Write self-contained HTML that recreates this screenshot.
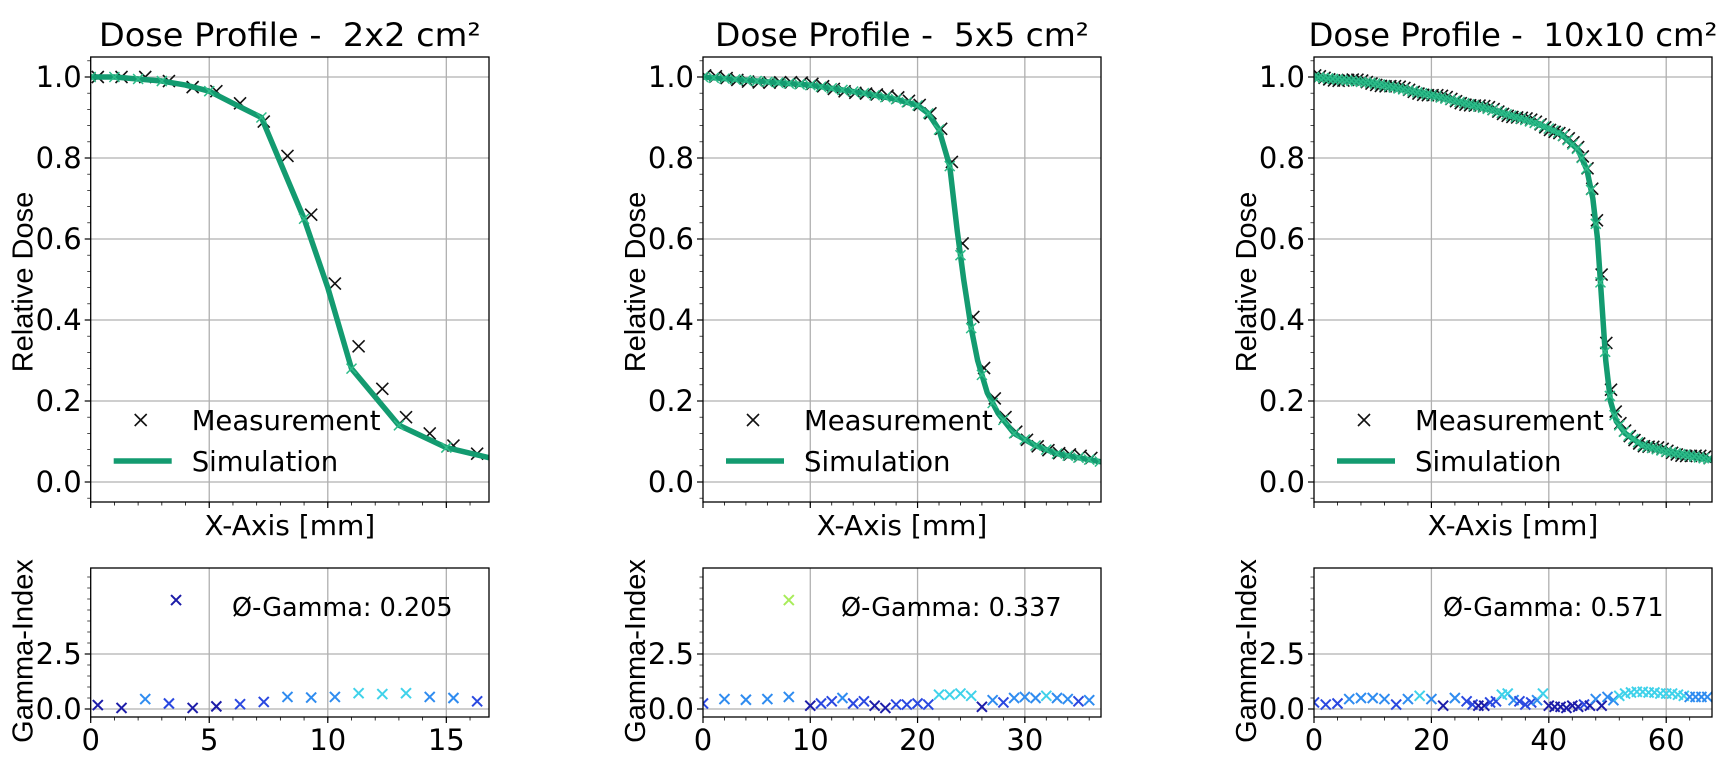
<!DOCTYPE html>
<html><head><meta charset="utf-8"><style>
html,body{margin:0;padding:0;background:#fff;}
svg text{font-family:"DejaVu Sans","Liberation Sans",sans-serif;fill:#000;white-space:pre;}
</style></head><body>
<svg id="s" width="1725" height="753" xmlns="http://www.w3.org/2000/svg"></svg>
<script>
const S=document.getElementById('s');let h='';
function interp(c,x){if(x<=c[0][0])return c[0][1];for(let i=1;i<c.length;i++){if(x<=c[i][0]){const a=c[i-1],b=c[i];return a[1]+(b[1]-a[1])*(x-a[0])/(b[0]-a[0]);}}return c[c.length-1][1];}
function cross(x,y,s,col,w){return `<path d="M${x-s},${y-s}L${x+s},${y+s}M${x-s},${y+s}L${x+s},${y-s}" stroke="${col}" stroke-width="${w}" fill="none"/>`;}
function gcol(v){if(v<0.2)return '#1c1ca8';if(v<0.4)return '#2a48e0';if(v<0.6)return '#2f8cf0';return '#3fd2ea';}
const P=[
{L:90.7,R:489,xmax:16.8,title:'Dose Profile -\u00a0 2x2 cm²',tl:382,ticks:[0,5,10,15],minor:1,
 sim:[[0,1],[1,1],[2,0.995],[3,0.99],[4,0.98],[5,0.965],[6,0.935],[7.2,0.9],[9,0.65],[10,0.48],[11,0.28],[13,0.14],[15,0.085],[16.8,0.06]],
 simMk:[0,1,2,3,5,7.2,9,11,13,15],
 meas:[[0.3,1],[1.3,1],[2.3,1.0],[3.3,0.99],[4.3,0.975],[5.3,0.965],[6.3,0.935],[7.3,0.89],[8.3,0.805],[9.3,0.66],[10.3,0.49],[11.3,0.335],[12.3,0.23],[13.3,0.16],[14.3,0.12],[15.3,0.09],[16.3,0.07]],
 gam:[[0.3,0.18],[1.3,0.05],[2.3,0.45],[3.3,0.25],[4.3,0.05],[5.3,0.12],[6.3,0.22],[7.3,0.32],[8.3,0.55],[9.3,0.52],[10.3,0.55],[11.3,0.72],[12.3,0.68],[13.3,0.72],[14.3,0.55],[15.3,0.5],[16.3,0.35]],
 out:[3.6,4.95,'#1c1ca8'],gtext:'Ø-Gamma: 0.205',gx:232},
{L:703,R:1101,xmax:37.1,title:'Dose Profile -\u00a0 5x5 cm²',tl:374,ticks:[0,10,20,30],minor:2,
 sim:[[0,1.0],[5,0.99],[10,0.98],[15,0.96],[18,0.945],[20,0.93],[21,0.91],[22,0.87],[23,0.78],[23.7,0.62],[24.3,0.5],[25,0.38],[25.6,0.3],[26.5,0.22],[27.5,0.17],[29,0.12],[31,0.09],[33,0.07],[35,0.06],[37.1,0.05]],
 step:1,shift:0.35,
 gam:[[0,0.25],[2,0.45],[4,0.42],[6,0.45],[8,0.55],[10,0.15],[11,0.25],[12,0.35],[13,0.5],[14,0.25],[15,0.35],[16,0.15],[17,0.05],[18,0.2],[19,0.2],[20,0.25],[21,0.2],[22,0.65],[23,0.65],[24,0.7],[25,0.6],[26,0.1],[27,0.4],[28,0.3],[29,0.5],[30,0.55],[31,0.5],[32,0.6],[33,0.5],[34,0.45],[35,0.35],[36,0.4]],
 out:[8,4.95,'#a8ec5a'],gtext:'Ø-Gamma: 0.337',gx:841},
{L:1314,R:1712,xmax:67.8,title:'Dose Profile -\u00a0 10x10 cm²',tl:409,ticks:[0,20,40,60],minor:4,
 sim:[[0,1.0],[10,0.985],[20,0.955],[30,0.92],[38,0.885],[42,0.86],[45,0.82],[46.5,0.77],[47.5,0.7],[48.3,0.6],[49,0.45],[49.7,0.3],[50.5,0.2],[51.5,0.15],[53,0.12],[56,0.09],[60,0.075],[67.8,0.055]],
 step:0.8,shift:0.3,
 gam:[[0,0.3],[2,0.2],[4,0.25],[6,0.45],[8,0.5],[10,0.5],[12,0.45],[14,0.2],[16,0.45],[18,0.6],[20,0.45],[22,0.15],[24,0.5],[26,0.35],[27,0.2],[28,0.15],[29,0.15],[30,0.3],[31,0.35],[32,0.65],[33,0.7],[34,0.4],[35,0.35],[36,0.2],[37,0.3],[38,0.4],[39,0.7],[40,0.15],[41,0.1],[42,0.1],[43,0.05],[44,0.15],[45,0.1],[46,0.2],[47,0.15],[48,0.45],[49,0.15],[50,0.55],[51,0.4],[52,0.6],[53,0.7],[54,0.75],[55,0.78],[56,0.78],[57,0.75],[58,0.75],[59,0.7],[60,0.7],[61,0.7],[62,0.65],[63,0.6],[64,0.55],[65,0.55],[66,0.55],[67,0.55]],
 out:null,gtext:'Ø-Gamma: 0.571',gx:1443}
];
const T=57,B=502,yv=v=>482-405*v, GT=568,GB=717,gy=v=>709-22*v;
P.forEach(p=>{
 const k=(p.R-p.L)/p.xmax, X=x=>p.L+k*x;
 h+=`<defs><clipPath id="c${p.L|0}"><rect x="${p.L}" y="${T}" width="${p.R-p.L}" height="${B-T}"/></clipPath><clipPath id="g${p.L|0}"><rect x="${p.L}" y="${GT}" width="${p.R-p.L}" height="${GB-GT}"/></clipPath></defs>`;
 p.ticks.forEach(t=>{const x=X(t);if(t>0){h+=`<line x1="${x}" y1="${T}" x2="${x}" y2="${B}" stroke="#b0b0b0" stroke-width="1.3"/><line x1="${x}" y1="${GT}" x2="${x}" y2="${GB}" stroke="#b0b0b0" stroke-width="1.3"/>`;}
  h+=`<line x1="${x}" y1="${B}" x2="${x}" y2="${B+6}" stroke="#000" stroke-width="1.2"/><line x1="${x}" y1="${GB}" x2="${x}" y2="${GB+6}" stroke="#000" stroke-width="1.2"/>`;
  h+=`<text x="${x}" y="750" font-size="29" text-anchor="middle">${t}</text>`;});
 for(let m=0;m<=p.xmax;m+=p.minor){const x=X(m);h+=`<line x1="${x}" y1="${B}" x2="${x}" y2="${B+3.5}" stroke="#000" stroke-width="0.8"/><line x1="${x}" y1="${GB}" x2="${x}" y2="${GB+3.5}" stroke="#000" stroke-width="0.8"/>`;}
 [0,0.2,0.4,0.6,0.8,1.0].forEach(v=>{const y=yv(v);h+=`<line x1="${p.L}" y1="${y}" x2="${p.R}" y2="${y}" stroke="#b0b0b0" stroke-width="1.3"/><line x1="${p.L-6}" y1="${y}" x2="${p.L}" y2="${y}" stroke="#000" stroke-width="1.2"/><text x="${p.L-9}" y="${y+10}" font-size="29" text-anchor="end">${v.toFixed(1)}</text>`;});
 for(let v=-0.04;v<=1.05;v+=0.04){const y=yv(v);h+=`<line x1="${p.L-3.5}" y1="${y}" x2="${p.L}" y2="${y}" stroke="#000" stroke-width="0.7"/>`;}
 [0,2.5].forEach(v=>{const y=gy(v);h+=`<line x1="${p.L}" y1="${y}" x2="${p.R}" y2="${y}" stroke="#b0b0b0" stroke-width="1.3"/><line x1="${p.L-6}" y1="${y}" x2="${p.L}" y2="${y}" stroke="#000" stroke-width="1.2"/><text x="${p.L-9}" y="${y+10}" font-size="29" text-anchor="end">${v.toFixed(1)}</text>`;});
 for(let v=0;v<=6.5;v+=0.5){const y=gy(v);if(y>GT)h+=`<line x1="${p.L-3.5}" y1="${y}" x2="${p.L}" y2="${y}" stroke="#000" stroke-width="0.7"/>`;}
 let g=`<g clip-path="url(#c${p.L|0})">`;
 let meas=p.meas;
 if(!meas){meas=[];for(let x=0.2;x<=p.xmax;x+=p.step){meas.push([x,interp(p.sim,x-p.shift)+(Math.sin(x*7)*0.004)]);}}
 meas.forEach(m=>{g+=cross(X(m[0]),yv(m[1]),6,'#111',1.6);});
 g+=`<polyline fill="none" stroke="#139b70" stroke-width="5.5" stroke-linejoin="round" points="${p.sim.map(c=>X(c[0])+','+yv(c[1])).join(' ')}"/>`;
 let sm=p.simMk; if(!sm){sm=[];for(let x=0;x<=p.xmax;x+=p.step)sm.push(x);}
 sm.forEach(x=>{g+=cross(X(x),yv(interp(p.sim,x)),5,'#2dbb88',1.5);});
 g+='</g>';h+=g;
 let q=`<g clip-path="url(#g${p.L|0})">`;
 p.gam.forEach(m=>{q+=cross(X(m[0]),gy(m[1]),5,gcol(m[1]),2);});
 if(p.out)q+=cross(X(p.out[0]),gy(p.out[1]),5,p.out[2],2);
 q+='</g>';h+=q;
 h+=`<rect x="${p.L}" y="${T}" width="${p.R-p.L}" height="${B-T}" fill="none" stroke="#000" stroke-width="1.3"/>`;
 h+=`<rect x="${p.L}" y="${GT}" width="${p.R-p.L}" height="${GB-GT}" fill="none" stroke="#000" stroke-width="1.3"/>`;
 const cx=(p.L+p.R)/2;
 h+=`<text x="${cx}" y="46" font-size="32" text-anchor="middle" textLength="${p.tl}" lengthAdjust="spacingAndGlyphs">${p.title}</text>`;
 h+=`<text x="${cx}" y="535" font-size="28" text-anchor="middle">X-Axis [mm]</text>`;
 h+=`<text transform="translate(${p.L-58},282) rotate(-90)" font-size="29" text-anchor="middle" style="font-family:'Liberation Sans',sans-serif">Relative Dose</text>`;
 h+=`<text transform="translate(${p.L-58},651) rotate(-90)" font-size="29" text-anchor="middle" style="font-family:'Liberation Sans',sans-serif">Gamma-Index</text>`;
 h+=`<text x="${p.gx}" y="616" font-size="25.5">${p.gtext}</text>`;
 const lx=p.L;
 h+=cross(lx+50,420,6,'#111',1.6);
 h+=`<text x="${lx+101}" y="430" font-size="27.5">Measurement</text>`;
 h+=`<line x1="${lx+23}" y1="461" x2="${lx+81}" y2="461" stroke="#139b70" stroke-width="5.5"/>`;
 h+=`<text x="${lx+101}" y="471" font-size="27.5">Simulation</text>`;
});
S.innerHTML=h;
</script>
</body></html>
